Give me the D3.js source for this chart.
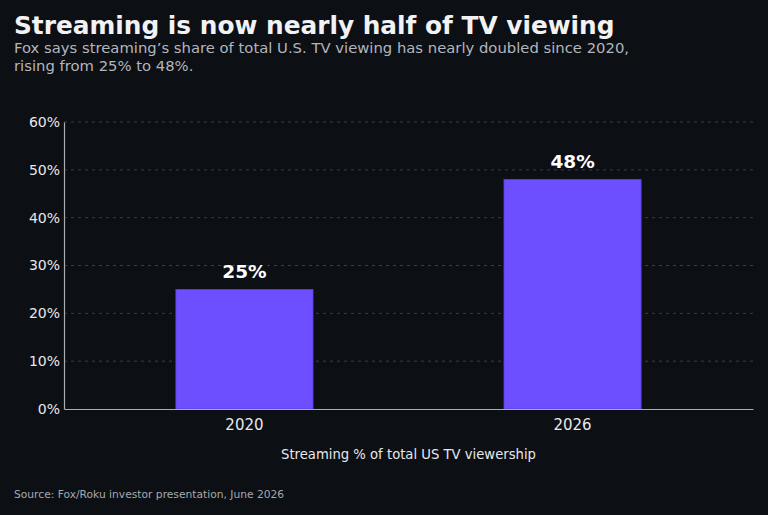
<!DOCTYPE html>
<html><head><meta charset="utf-8">
<script src="https://cdn.jsdelivr.net/npm/d3@7"></script>
<style>
html,body{margin:0;padding:0;background:#0c0f14;}
svg{display:block;font-family:"DejaVu Sans",sans-serif;}
</style></head>
<body><svg id="chart" width="768" height="515"></svg>
<script>
const categories = ["2020", "2026"];
const values = [25, 48];
const yTicks = [0, 10, 20, 30, 40, 50, 60];

const W = 768, H = 515;
const margin = {left: 64, right: 15, top: 122, bottom: 106};
const svg = d3.select("#chart");
svg.append("rect").attr("width", W).attr("height", H).attr("fill", "#0c0f14");

const x = d3.scaleBand().domain(categories)
  .range([margin.left, W - margin.right])
  .paddingInner(0.582).paddingOuter(0.341);
const y = d3.scaleLinear().domain([0, 60]).range([H - margin.bottom, margin.top]);

// gridlines
svg.append("g").selectAll("line").data(yTicks.filter(d => d > 0)).join("line")
  .attr("x1", margin.left).attr("x2", W - margin.right)
  .attr("y1", d => y(d)).attr("y2", d => y(d))
  .attr("stroke", "#3a3e46").attr("stroke-width", 1).attr("stroke-dasharray", "3,4");

// bars
svg.append("g").selectAll("rect").data(categories).join("rect")
  .attr("x", d => x(d)).attr("width", x.bandwidth())
  .attr("y", (d, i) => y(values[i])).attr("height", (d, i) => y(0) - y(values[i]))
  .attr("fill", "#6e4fff").attr("stroke", "#5a3fd6").attr("stroke-width", 0.8);

// value labels
svg.append("g").selectAll("text").data(categories).join("text")
  .attr("x", d => x(d) + x.bandwidth() / 2)
  .attr("y", (d, i) => y(values[i]) - 11)
  .attr("text-anchor", "middle").attr("fill", "#ffffff")
  .attr("font-size", 18.5).attr("font-weight", "bold")
  .text((d, i) => values[i] + "%");

// y axis
const yAxis = svg.append("g").attr("transform", `translate(${margin.left},0)`)
  .call(d3.axisLeft(y).tickValues(yTicks).tickFormat(d => d + "%").tickSize(0).tickPadding(4));
yAxis.select(".domain").attr("stroke", "#a9acb3").attr("stroke-width", 1.2);
yAxis.selectAll("text").attr("fill", "#e8e8ea").attr("font-size", 14).attr("font-family", "DejaVu Sans");

// x axis
const xAxis = svg.append("g").attr("transform", `translate(0,${y(0)})`)
  .call(d3.axisBottom(x).tickSize(0).tickPadding(10));
xAxis.select(".domain").attr("stroke", "#a9acb3").attr("stroke-width", 1.2);
xAxis.selectAll("text").attr("fill", "#e8e8ea").attr("font-size", 15).attr("font-family", "DejaVu Sans");

// x axis label
svg.append("text").attr("x", (margin.left + W - margin.right) / 2).attr("y", 459)
  .attr("text-anchor", "middle").attr("fill", "#e8e8ea").attr("font-size", 13.2)
  .text("Streaming % of total US TV viewership");

// title
svg.append("text").attr("x", 14).attr("y", 34).attr("fill", "#f2f2f4")
  .attr("font-size", 24.8).attr("font-weight", "bold")
  .text("Streaming is now nearly half of TV viewing");
svg.append("text").attr("x", 14).attr("y", 53).attr("fill", "#b3b6bc").attr("font-size", 14.8)
  .text("Fox says streaming\u2019s share of total U.S. TV viewing has nearly doubled since 2020,");
svg.append("text").attr("x", 14).attr("y", 71).attr("fill", "#b3b6bc").attr("font-size", 14.8)
  .text("rising from 25% to 48%.");

// source
svg.append("text").attr("x", 14).attr("y", 498).attr("fill", "#a6a9af").attr("font-size", 10.7)
  .text("Source: Fox/Roku investor presentation, June 2026");
</script></body></html>
